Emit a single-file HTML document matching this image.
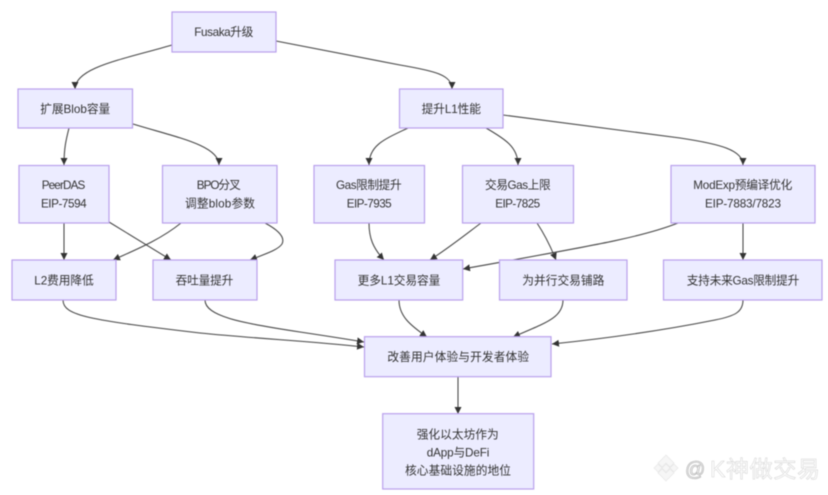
<!DOCTYPE html>
<html><head><meta charset="utf-8"><style>
html,body{margin:0;padding:0;background:#fff;width:828px;height:495px;overflow:hidden}
svg{display:block}
.n rect{fill:#ECECFF;stroke:#b9a0ec;stroke-width:1.2}
.e path{fill:none;stroke:#444;stroke-width:1.05;marker-end:url(#a)}
.t text{font-family:"Liberation Sans","Noto Sans CJK SC",sans-serif;font-size:11.7px;fill:#333;text-anchor:middle}
.w text{font-family:"Liberation Sans","Noto Sans CJK SC",sans-serif;fill:#fff;stroke:#d4d4d4;stroke-width:.55}
</style></head><body>
<svg width="828" height="495" viewBox="0 0 828 495" xmlns="http://www.w3.org/2000/svg">
<defs><marker id="a" markerUnits="userSpaceOnUse" markerWidth="7" markerHeight="7" viewBox="0 0 10 10" refX="10" refY="5" orient="auto"><path d="M0,0L10,5L0,10z" fill="#333"/></marker></defs>
<g style="filter:blur(.5px)">
<g class="e">
<path d="M172,45C125,59 75,67 75,89"/>
<path d="M276,41L400,65C435,71 452,75 452,89"/>
<path d="M69,128C66,140 64,148 64,165"/>
<path d="M133,124C175,137 219,145 219,165"/>
<path d="M64,223L64,260"/>
<path d="M109,222L171,260"/>
<path d="M181,223C160,240 135,250 113,260"/>
<path d="M265,223C280,231 285,238 282,244C278,250 265,254 250,260"/>
<path d="M408,128C385,139 369,145 369,165"/>
<path d="M486,128C505,139 518,147 518,165"/>
<path d="M503,115L680,138C720,144 743,150 743,165"/>
<path d="M743,223L743,260"/>
<path d="M678,223C640,238 590,246 463,269"/>
<path d="M369,223C369,238 373,248 384,260"/>
<path d="M481,223C465,235 450,247 430,260"/>
<path d="M537,223C545,235 550,245 556,260"/>
<path d="M63,300C63,316 90,320 200,333C260,339 310,341 364,347"/>
<path d="M205,300C205,316 240,323 300,332C320,335 340,338 364,342"/>
<path d="M399,300C399,316 410,325 427,337"/>
<path d="M563,300C563,318 545,323 513,337"/>
<path d="M743,300C743,312 735,316 715,320C660,331 610,338 552,344"/>
<path d="M458,377L458,414"/>
</g>
<g class="n">
<rect x="172" y="12" width="104" height="40"/>
<rect x="18" y="89" width="114.500" height="39"/>
<rect x="19" y="165.500" width="90" height="57.500"/>
<rect x="162.500" y="165.500" width="114.500" height="57.500"/>
<rect x="12" y="260" width="104" height="40"/>
<rect x="153" y="260" width="104" height="40"/>
<rect x="399.500" y="89" width="103.500" height="39"/>
<rect x="314" y="165.500" width="110.500" height="57.500"/>
<rect x="462.500" y="165.500" width="111" height="57.500"/>
<rect x="671" y="165.500" width="144" height="57.500"/>
<rect x="663.500" y="260" width="158.500" height="40"/>
<rect x="499.500" y="260" width="127.500" height="40"/>
<rect x="335" y="260" width="127.700" height="40"/>
<rect x="364.500" y="336.700" width="186.500" height="40"/>
<rect x="382.700" y="413.700" width="151" height="75.300"/>
</g>
<g class="t">
<text x="223.800" y="36" textLength="59">Fusaka升级</text>
<text x="75.200" y="113" textLength="70">扩展Blob容量</text>
<text x="63.500" y="189" textLength="43.600">PeerDAS</text>
<text x="63.800" y="207.700" textLength="45.700">EIP-7594</text>
<text x="218.800" y="189" textLength="44">BPO分叉</text>
<text x="220" y="207.700" textLength="70">调整blob参数</text>
<text x="64" y="284.700" textLength="59.400">L2费用降低</text>
<text x="204.500" y="284.700" textLength="57.700">吞吐量提升</text>
<text x="451.300" y="113" textLength="59.300">提升L1性能</text>
<text x="368.800" y="189" textLength="65.700">Gas限制提升</text>
<text x="369.200" y="207.700" textLength="45">EIP-7935</text>
<text x="517.800" y="189" textLength="65.700">交易Gas上限</text>
<text x="517.700" y="207.700" textLength="45">EIP-7825</text>
<text x="742.800" y="189" textLength="99">ModExp预编译优化</text>
<text x="743" y="207.700" textLength="76">EIP-7883/7823</text>
<text x="743" y="284.700" textLength="112.600">支持未来Gas限制提升</text>
<text x="563.300" y="284.700" textLength="82">为并行交易铺路</text>
<text x="399" y="284.700" textLength="82.700">更多L1交易容量</text>
<text x="458.200" y="361" textLength="141.700">改善用户体验与开发者体验</text>
<text x="457.700" y="438.300" textLength="82">强化以太坊作为</text>
<text x="458" y="456.300" textLength="62.600">dApp与DeFi</text>
<text x="458" y="474.300" textLength="106">核心基础设施的地位</text>
</g>
<g class="w">
<path d="M666,455L674,463L670,467L666,463L662,467L658,463Z M654,468L658,464L662,468L658,472Z M678,468L674,464L670,468L674,472Z M666,464L670,468L666,472L662,468Z M658,473L662,469L666,473L670,469L674,473L666,481Z" fill="#f6f6f6" stroke="#e4e4e4" stroke-width=".6"/>
<text x="685" y="476" font-size="20" style="stroke:#bbb;stroke-width:.8">@</text>
<text x="710" y="477" font-size="23" textLength="110">K神做交易</text>
</g>
</g>
</svg>
</body></html>
